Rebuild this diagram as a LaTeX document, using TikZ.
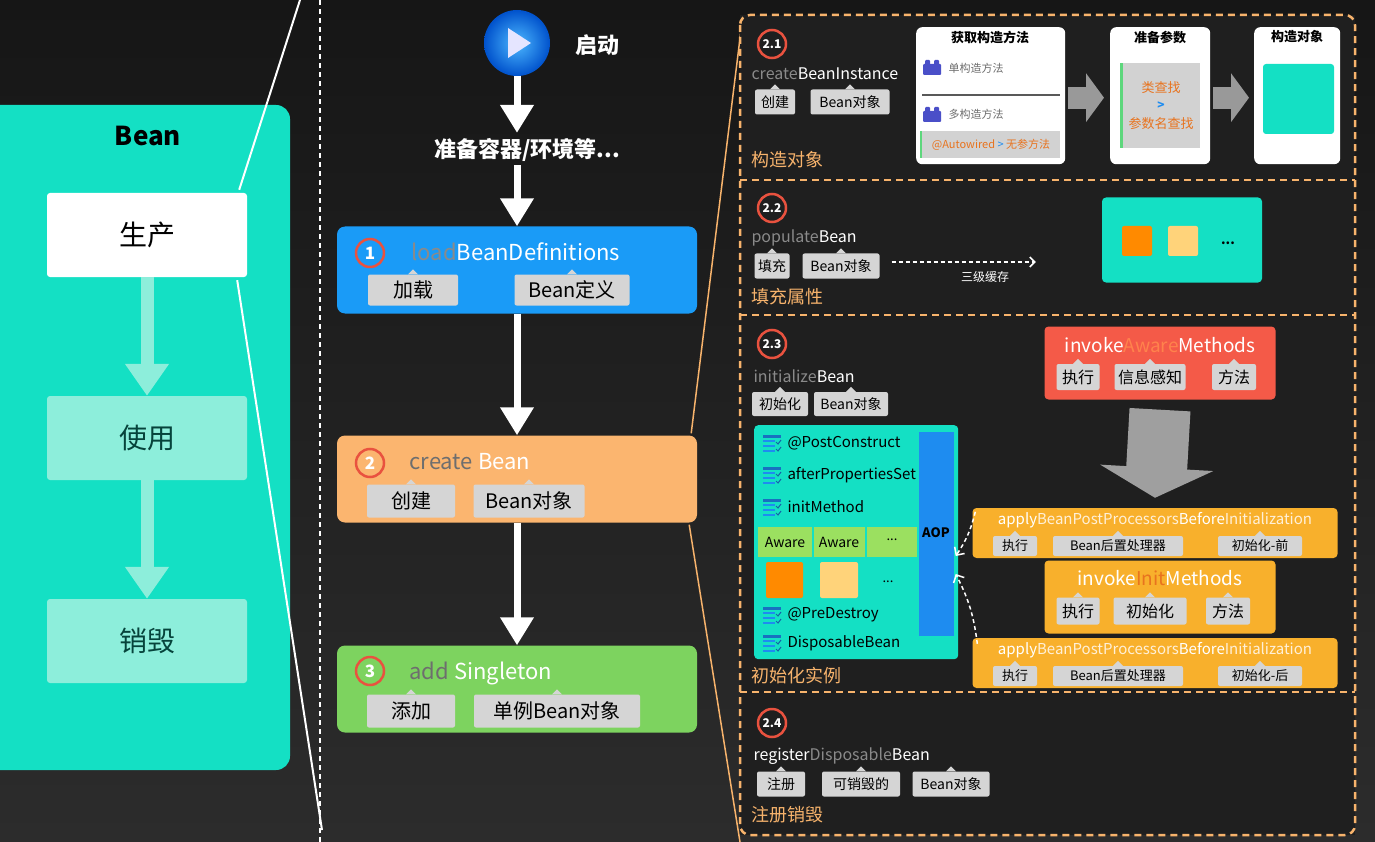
\documentclass[tikz,border=0pt]{standalone}
\usepackage{fontspec}
\setmainfont{Noto Sans CJK SC}
\usetikzlibrary{arrows.meta,calc}
\definecolor{bgA}{HTML}{161616}
\definecolor{bgB}{HTML}{2C2C2C}
\definecolor{teal}{HTML}{14E0C4}
\definecolor{lteal}{HTML}{8DEEDB}
\definecolor{bblue}{HTML}{1A9BF7}
\definecolor{borange}{HTML}{FBB56F}
\definecolor{bgreen}{HTML}{7DD35F}
\definecolor{ringred}{HTML}{E9523F}
\definecolor{porange}{HTML}{F7B36C}
\definecolor{byellow}{HTML}{F8B02C}
\definecolor{bred}{HTML}{F45A48}
\definecolor{tagc}{HTML}{D5D5D5}
\definecolor{gtxt}{HTML}{8A8A8A}
\definecolor{dgtxt}{HTML}{6E6E6E}
\definecolor{otxt}{HTML}{E8731E}
\definecolor{ltxt}{HTML}{FFF0D8}
\definecolor{cgreen}{HTML}{9BE060}
\definecolor{sq1}{HTML}{FF8A00}
\definecolor{sq2}{HTML}{FFD37A}
\definecolor{aop}{HTML}{1E8CF0}
\definecolor{lego}{HTML}{4A4FC8}
\newcommand\fs[1]{\fontsize{#1}{#1}\selectfont}
\newcommand\mytag[6]{\node[tag,minimum width=#3pt,minimum height=#4pt,font=\fs{#5}] (#1) at (#2) {#6};
  \fill[tagc] ([xshift=-5pt]#1.north) -- ([yshift=5pt]#1.north) -- ([xshift=5pt]#1.north) -- cycle;}
\newcommand\ring[3]{\node[ring,font=\bfseries\fs{#3}] at (#1) {#2};}
\newcommand\licon[1]{\begin{scope}[shift={(#1)}]
  \fill[aop!80!black] (-9,-8) rectangle (9,-5);
  \foreach \yy in {-2,3,8}{\fill[aop] (-9,\yy-1) rectangle (3,\yy+1);}
  \draw[aop!70!black,line width=1pt] (4,-1) -- (6,1) -- (9,-3);
  \draw[aop!70!black,line width=1pt] (4,6) -- (6,8) -- (9,4);
\end{scope}}
\newcommand\legoicon[1]{\begin{scope}[shift={(#1)}]
  \fill[lego,rounded corners=1pt] (-9,-3) rectangle (9,8);
  \fill[lego,rounded corners=1pt] (-7,-7) rectangle (-2,-2);
  \fill[lego,rounded corners=1pt] (2,-7) rectangle (7,-2);
\end{scope}}
\tikzset{
  tag/.style={fill=tagc,rounded corners=2pt,text=black,inner sep=1pt},
  ring/.style={circle,draw=ringred,line width=2.5pt,text=white,minimum size=28pt,inner sep=0pt},
  bigbox/.style={rounded corners=8pt,minimum width=360pt,minimum height=87pt},
  wbox/.style={fill=white,rounded corners=6pt,anchor=north west},
  warr/.style={white,line width=7pt,-{Triangle[length=28pt 0 0,width=32pt 0 0]}},
  tarr/.style={lteal,line width=13pt,-{Triangle[length=32pt 0 0,width=42pt 0 0]}},
  garr/.style={gray!80,line width=22pt,-{Triangle[length=18pt 0 0,width=48pt 0 0]}},
  dsh/.style={white,dashed,line width=1.5pt,dash pattern=on 4pt off 3pt},
  sec/.style={anchor=west,text=porange,font=\fs{18}},
  mt/.style={anchor=west,text=white,font=\fs{16}},
  it/.style={anchor=west,text=black,font=\fs{15}},
}
\begin{document}
\begin{tikzpicture}[x=1pt,y=-1pt]
\useasboundingbox (0,0) rectangle (1375,842);
\shade[top color=bgA,bottom color=bgB] (0,0) rectangle (1375,842);

% ---------- left panel ----------
\fill[teal,rounded corners=14pt] (-20,105) rectangle (290,770);
\node[font=\fs{26}\bfseries,text=black] (beanT) at (148,136) {Bean};
\node[fill=white,rounded corners=3pt,minimum width=200pt,minimum height=84pt,font=\fs{28},text=black] (prod) at (147,235) {生产};
\node[fill=lteal,rounded corners=3pt,minimum width=200pt,minimum height=84pt,font=\fs{28},text=black!70!teal] (use) at (147,438) {使用};
\node[fill=lteal,rounded corners=3pt,minimum width=200pt,minimum height=84pt,font=\fs{28},text=black!70!teal] (dest) at (147,641) {销毁};
\draw[tarr] (prod.south) -- (use.north);
\draw[tarr] (use.south) -- (dest.north);
\coordinate (zt) at (300,0);
\coordinate (zb) at (322,830);
\draw[white,line width=2pt] (prod.north east) ++(-8,-3) -- (zt);
\draw[white,line width=2pt] (prod.south east) ++(-10,3) -- (zb);
\draw[white,line width=2.5pt,dash pattern=on 5pt off 4pt] (320,0) -- (320,842);

% ---------- middle column ----------
\shade[inner color=cyan!60!blue!70,outer color=blue!60!cyan!80!black] (517,43) circle (33);
\node[circle,minimum size=66pt] (play) at (517,43) {};
\fill[white!90!blue] (508,28) -- (531,43) -- (508,58) -- cycle;
\node[anchor=west,text=white,font=\bfseries\fs{22}] at (572,45) {启动};
\node[text=white,font=\bfseries\fs{22}] (prep) at (527,150) {准备容器/环境等...};
\node[bigbox,fill=bblue] (b1) at (517,270) {};
\node[bigbox,fill=borange] (b2) at (517,479) {};
\node[bigbox,fill=bgreen] (b3) at (517,689) {};
\draw[warr] (play.south) -- ([yshift=2pt]play.south |- prep.north);
\draw[warr] (prep.south -| b1.north) -- (b1.north);
\draw[warr] (b1.south) -- (b2.north);
\draw[warr] (b2.south) -- (b3.north);
\ring{370,253}{1}{17}
\node[anchor=west,text=white,font=\fs{22}] at (408,252) {{\color{gtxt}load}BeanDefinitions};
\mytag{t11}{413,290}{90}{31}{20}{加载}
\mytag{t12}{572,290}{115}{31}{20}{Bean定义}
\ring{370,463}{2}{17}
\node[anchor=west,text=white,font=\fs{22}] at (406,462) {{\color{dgtxt}create} Bean};
\mytag{t21}{411,501}{88}{33}{20}{创建}
\mytag{t22}{529,501}{111}{33}{20}{Bean对象}
\ring{370,671}{3}{17}
\node[anchor=west,text=white,font=\fs{22}] at (406,673) {{\color{dgtxt}add} Singleton};
\mytag{t31}{411,711}{88}{33}{20}{添加}
\mytag{t32}{557,711}{166}{33}{20}{单例Bean对象}

% zoom lines to right panel
\coordinate (pt) at (742,22);
\coordinate (pb) at (740,842);
\draw[porange,line width=1.5pt] (b2.north east) ++(-6,-2) -- (pt);
\draw[porange,line width=1.5pt] (b2.south east) ++(-8,2) -- (pb);

% ---------- right panel ----------
\fill[bgA!60!bgB] (740,15) rectangle (1355,835);
\draw[porange,line width=2.5pt,dash pattern=on 7pt off 5pt,rounded corners=10pt] (740,15) rectangle (1355,835);
\foreach \yy in {180,315,692}{\draw[porange,line width=2.5pt,dash pattern=on 7pt off 5pt] (740,\yy) -- (1355,\yy);}

% 2.1
\ring{772,44}{2.1}{12}
\node[mt] at (748,74) {{\color{gtxt}create}BeanInstance};
\mytag{a1}{775,102}{40}{25}{14}{创建}
\mytag{a2}{850,102}{79}{25}{14}{Bean对象}
\node[sec] at (748,160) {构造对象};
\node[wbox,minimum width=149pt,minimum height=137pt] (w1) at (916,27) {};
\node[font=\bfseries\fs{13},text=black] at (990,37) {获取构造方法};
\legoicon{932,67}
\node[anchor=west,font=\fs{11},text=dgtxt] at (945,68) {单构造方法};
\draw[gray!70!black,line width=1.5pt] (922,95) -- (1060,95);
\legoicon{932,114}
\node[anchor=west,font=\fs{11},text=dgtxt] at (945,114) {多构造方法};
\fill[gray!35] (920,131) rectangle (1060,158);
\fill[bgreen!70!teal] (920,131) rectangle (922,158);
\node[font=\fs{11},text=otxt] at (991,145) {@Autowired {\color{aop}>} 无参方法};
\node[wbox,minimum width=100pt,minimum height=137pt] (w2) at (1110,27) {};
\node[font=\bfseries\fs{13},text=black] at (1160,37) {准备参数};
\fill[gray!35] (1120,63) rectangle (1200,148);
\fill[bgreen!70!teal] (1120,63) rectangle (1123,148);
\node[font=\fs{13},text=otxt] at (1161,88) {类查找};
\node[font=\bfseries\fs{12},text=aop] at (1161,106) {>};
\node[font=\fs{13},text=otxt] at (1161,124) {参数名查找};
\node[wbox,minimum width=86pt,minimum height=137pt] (w3) at (1254,27) {};
\node[font=\bfseries\fs{13},text=black] at (1297,37) {构造对象};
\fill[teal,rounded corners=3pt] (1263,64) rectangle (1334,134);
\draw[garr] ([xshift=3pt,yshift=-2pt]w1.east) -- ([xshift=-6pt,yshift=-2pt]w2.west);
\draw[garr] ([xshift=3pt,yshift=-2pt]w2.east) -- ([xshift=-5pt,yshift=-2pt]w3.west);

% 2.2
\ring{772,208}{2.2}{12}
\node[mt] at (748,238) {{\color{gtxt}populate}Bean};
\mytag{p1}{772,266}{35}{25}{14}{填充}
\mytag{p2}{841,266}{77}{25}{14}{Bean对象}
\node[sec] at (748,297) {填充属性};
\node[fill=teal,rounded corners=4pt,minimum width=160pt,minimum height=85pt] (cache) at (1182,240) {};
\fill[sq1,rounded corners=2pt] (1122,226) rectangle (1152,256);
\fill[sq2,rounded corners=2pt] (1168,226) rectangle (1198,256);
\node[font=\bfseries\fs{13},text=black] at (1228,243) {...};
\draw[dsh,-{Straight Barb[length=5pt]}] ([xshift=12pt,yshift=4pt]p2.east) -- ([xshift=-66pt,yshift=4pt]p2.east -| cache.west);
\node[font=\fs{12},text=white] at (985,277) {三级缓存};

% 2.3
\ring{772,344}{2.3}{12}
\node[mt] at (750,376) {{\color{gtxt}initialize}Bean};
\mytag{i1}{780,404}{56}{24}{14}{初始化}
\mytag{i2}{851,404}{74}{24}{14}{Bean对象}
\node[sec] at (748,676) {初始化实例};
\node[fill=teal,rounded corners=4pt,anchor=north west,minimum width=204pt,minimum height=234pt] (tb) at (754,425) {};
\node[fill=aop,minimum width=35pt,minimum height=204pt] (aopb) at (936,534) {};
\node[font=\bfseries\fs{13},text=black] at (936,533) {AOP};
\licon{772,443}\node[it] at (784,443) {@PostConstruct};
\licon{772,475}\node[it] at (784,475) {afterPropertiesSet};
\licon{772,507}\node[it] at (784,507) {initMethod};
\licon{772,615}\node[it] at (784,615) {@PreDestroy};
\licon{772,643}\node[it] at (784,643) {DisposableBean};
\fill[cgreen] (758,527) rectangle (812,557);
\fill[cgreen] (814,527) rectangle (865,557);
\fill[cgreen] (867,527) rectangle (917,557);
\node[font=\fs{14},text=black] at (785,542) {Aware};
\node[font=\fs{14},text=black] at (839,542) {Aware};
\node[font=\fs{13},text=black] at (892,540) {...};
\fill[sq1,rounded corners=2pt] (766,562) rectangle (803,598);
\fill[sq2,rounded corners=2pt] (820,562) rectangle (858,598);
\node[font=\fs{13},text=black] at (888,582) {...};

\node[fill=bred,rounded corners=4pt,minimum width=231pt,minimum height=73pt] (iam) at (1160,363) {};
\node[text=white,font=\fs{19}] at (1160,345) {invoke{\color{orange!60!red!70!white}Aware}Methods};
\mytag{r1}{1078,377}{43}{26}{16}{执行}
\mytag{r2}{1150,377}{71}{26}{16}{信息感知}
\mytag{r3}{1234,377}{44}{26}{16}{方法}

\node[fill=byellow,rounded corners=4pt,minimum width=365pt,minimum height=50pt] (ap1) at (1155,533) {};
\node[text=white,font=\fs{15}] at (1155,520) {apply{\color{ltxt}BeanPostProcessors}Before{\color{ltxt}Initialization}};
\mytag{y1}{1015,546}{44}{20}{13}{执行}
\mytag{y2}{1118,546}{130}{20}{13}{Bean后置处理器}
\mytag{y3}{1260,546}{84}{20}{13}{初始化-前}

\node[fill=byellow,rounded corners=4pt,minimum width=231pt,minimum height=73pt] (iim) at (1160,597) {};
\node[text=white,font=\fs{19}] at (1160,578) {invoke{\color{otxt}Init}Methods};
\mytag{m1}{1078,611}{43}{27}{16}{执行}
\mytag{m2}{1150,611}{73}{27}{16}{初始化}
\mytag{m3}{1228,611}{44}{27}{16}{方法}

\node[fill=byellow,rounded corners=4pt,minimum width=365pt,minimum height=50pt] (ap2) at (1155,663) {};
\node[text=white,font=\fs{15}] at (1155,650) {apply{\color{ltxt}BeanPostProcessors}Before{\color{ltxt}Initialization}};
\mytag{z1}{1015,676}{44}{20}{13}{执行}
\mytag{z2}{1118,676}{130}{20}{13}{Bean后置处理器}
\mytag{z3}{1260,676}{84}{20}{13}{初始化-后}

\draw[gray!75,line width=61pt,-{Triangle[length=30pt 0 0,width=112pt 0 0]}] ([yshift=-10pt]iam.south) -- ([yshift=10pt]ap1.north);
\draw[dsh,-{Straight Barb[length=6pt]}] ([xshift=3pt,yshift=-4pt]ap1.north west) to[bend left=10] ([xshift=2pt,yshift=-22pt]aopb.east);
\draw[dsh,-{Straight Barb[length=6pt]}] ([xshift=5pt,yshift=-6pt]ap2.north west) to[bend right=10] ([xshift=2pt,yshift=-40pt]aopb.east);

% 2.4
\ring{772,723}{2.4}{12}
\node[mt] at (750,756) {register{\color{gtxt}Disposable}Bean};
\mytag{d1}{781,784}{48}{25}{14}{注册}
\mytag{d2}{861,784}{78}{25}{14}{可销毁的}
\mytag{d3}{951,784}{77}{25}{14}{Bean对象}
\node[sec] at (748,815) {注册销毁};
\end{tikzpicture}
\end{document}
